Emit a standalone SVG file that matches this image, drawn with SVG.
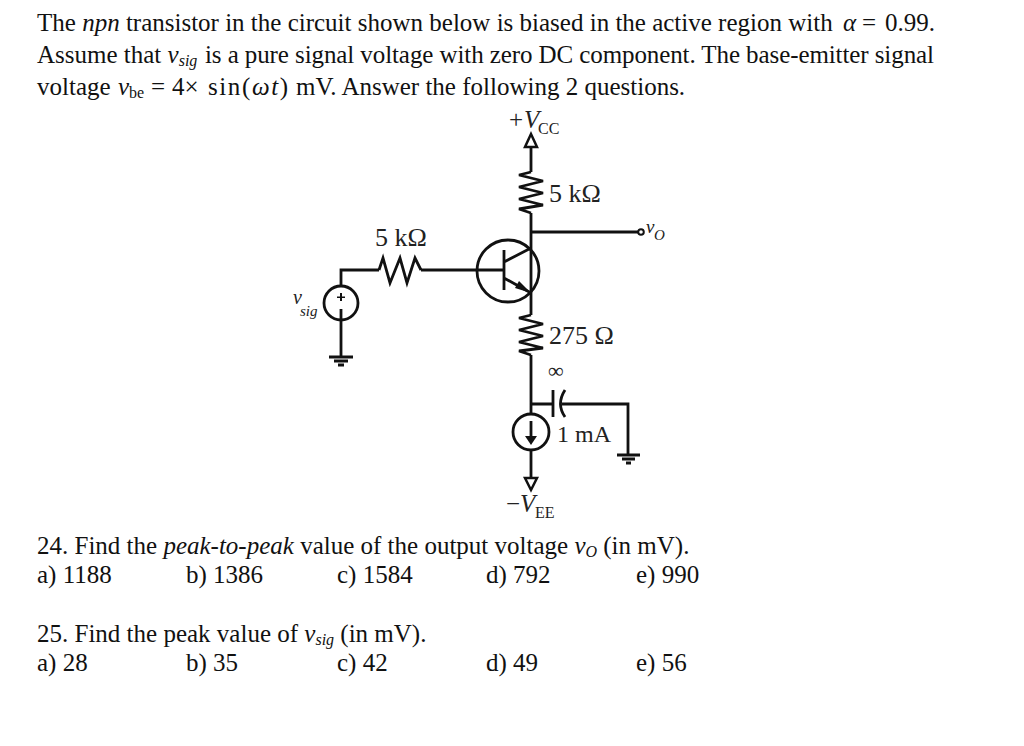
<svg xmlns="http://www.w3.org/2000/svg" width="1024" height="746" viewBox="0 0 1024 746">
<style>
.t{font-family:"Liberation Serif","Times New Roman",serif;font-size:25px;fill:#111}
.i{font-style:italic}
.s{font-size:16px}
.c{font-family:"Liberation Serif","Times New Roman",serif;fill:#222}
.w{fill:none;stroke:#111;stroke-width:2.8;stroke-linejoin:miter}
.h{fill:#fff;stroke:#111;stroke-width:2.5}
.f{fill:#111}
</style>
<rect width="1024" height="746" fill="#fff"/>
<g id="question-text">
<text class="t" x="37" y="31">The <tspan class="i">npn</tspan> transistor in the circuit shown below is biased in the active region with <tspan class="i" x="843">α</tspan><tspan x="862">=</tspan><tspan x="885">0.99.</tspan></text>
<text class="t" x="37" y="63">Assume that <tspan class="i">v</tspan><tspan class="i s" dy="3">sig</tspan><tspan x="205" dy="-3" textLength="729">is a pure signal voltage with zero DC component. The base-emitter signal</tspan></text>
<text class="t" x="37" y="95">voltage <tspan class="i" x="118">v</tspan><tspan class="s" dy="3">be</tspan><tspan dy="-3" x="151">=</tspan><tspan x="172">4×</tspan><tspan x="208" letter-spacing="1.600">sin(<tspan class="i">ωt</tspan>)</tspan><tspan x="296">mV. Answer the following 2 questions.</tspan></text>
</g>
<g id="connectors">
<path class="w" d="M531 148V172M531 213V293M531 232H638M531 315V293M531 355V414M531 450V477M531 404H553M562 404H628V455"/>
<path class="w" d="M341 286V270H379M421 270H477M341 320V357"/>
</g>
<g id="vcc"><path class="h" d="M531 134L537 147H525Z"/><text class="c" x="509" y="128" style="font-size:25px">+<tspan class="i" x="524">V</tspan></text><text class="c" x="538" y="134" style="font-size:16px">CC</text></g>
<g id="rc"><path class="w" d="M531 172L519 175L543 181L519 187L543 193L519 199L543 205L519 209L531 213"/><text class="c" x="549" y="202" style="font-size:26px">5 kΩ</text></g>
<g id="vo"><circle cx="641" cy="232" r="2.800" fill="#fff" stroke="#111" stroke-width="2"/><text class="c i" x="646" y="233" style="font-size:19px">v</text><text class="c i" x="654" y="240" style="font-size:15px">O</text></g>
<g id="rb"><path class="w" d="M379 270L383 258L390 283L400 258L407 283L415 258L421 270"/><text class="c" x="375" y="246" style="font-size:26px">5 kΩ</text></g>
<g id="transistor"><circle class="w" cx="508" cy="271" r="31"/><path class="w" d="M504 250V290M477 270H504M504 262L531 248M504 278L531 293"/><path class="f" d="M531 293L515 288L519 281Z"/></g>
<g id="vsig"><circle class="w" cx="341" cy="303" r="17"/><path class="f" d="M340 293H342V296.500H345V298H342V301H340V298H337V296.500H340Z"/><path class="w" d="M341 309V320"/><text class="c i" x="293" y="304" style="font-size:20px">v</text><text class="c i" x="300" y="316" style="font-size:15px">sig</text></g>
<g id="ground-source"><path class="w" d="M329 357H353M334 361H348M338 365H344"/></g>
<g id="re"><path class="w" d="M531 315L519 318L543 324L519 330L543 336L519 342L543 348L519 351L531 355"/><text class="c" x="549" y="344" style="font-size:26px">275 Ω</text></g>
<g id="bypass-cap"><path class="w" d="M553 390V417M565 390Q556 404 565 417"/><text class="c" x="548" y="378" style="font-size:22px">∞</text></g>
<g id="current-source"><circle class="w" cx="531" cy="432" r="18"/><path class="w" d="M531 421V441"/><path class="f" d="M531 445L525 436H537Z"/><text class="c" x="557" y="442" style="font-size:24px">1 mA</text></g>
<g id="ground-cap"><path class="w" d="M617 455H640M622 459H635M626 463H631"/></g>
<g id="vee"><path class="h" d="M531 490L525 478H537Z"/><text class="c" x="506" y="512" style="font-size:25px">−<tspan class="i" x="520">V</tspan></text><text class="c" x="535" y="518" style="font-size:16px">EE</text></g>
<g id="q24">
<text class="t" x="37" y="554">24. Find the <tspan class="i">peak-to-peak</tspan> value of the output voltage <tspan class="i">v</tspan><tspan class="i s" dy="3">O</tspan><tspan dy="-3"> (in mV).</tspan></text>
<text class="t" x="37" y="583">a) 1188</text><text class="t" x="186" y="583">b) 1386</text><text class="t" x="337" y="583">c) 1584</text><text class="t" x="486" y="583">d) 792</text><text class="t" x="636" y="583">e) 990</text>
</g>
<g id="q25">
<text class="t" x="37" y="642">25. Find the peak value of <tspan class="i">v</tspan><tspan class="i s" dy="3">sig</tspan><tspan dy="-3"> (in mV).</tspan></text>
<text class="t" x="37" y="671">a) 28</text><text class="t" x="186" y="671">b) 35</text><text class="t" x="337" y="671">c) 42</text><text class="t" x="486" y="671">d) 49</text><text class="t" x="636" y="671">e) 56</text>
</g>
</svg>
